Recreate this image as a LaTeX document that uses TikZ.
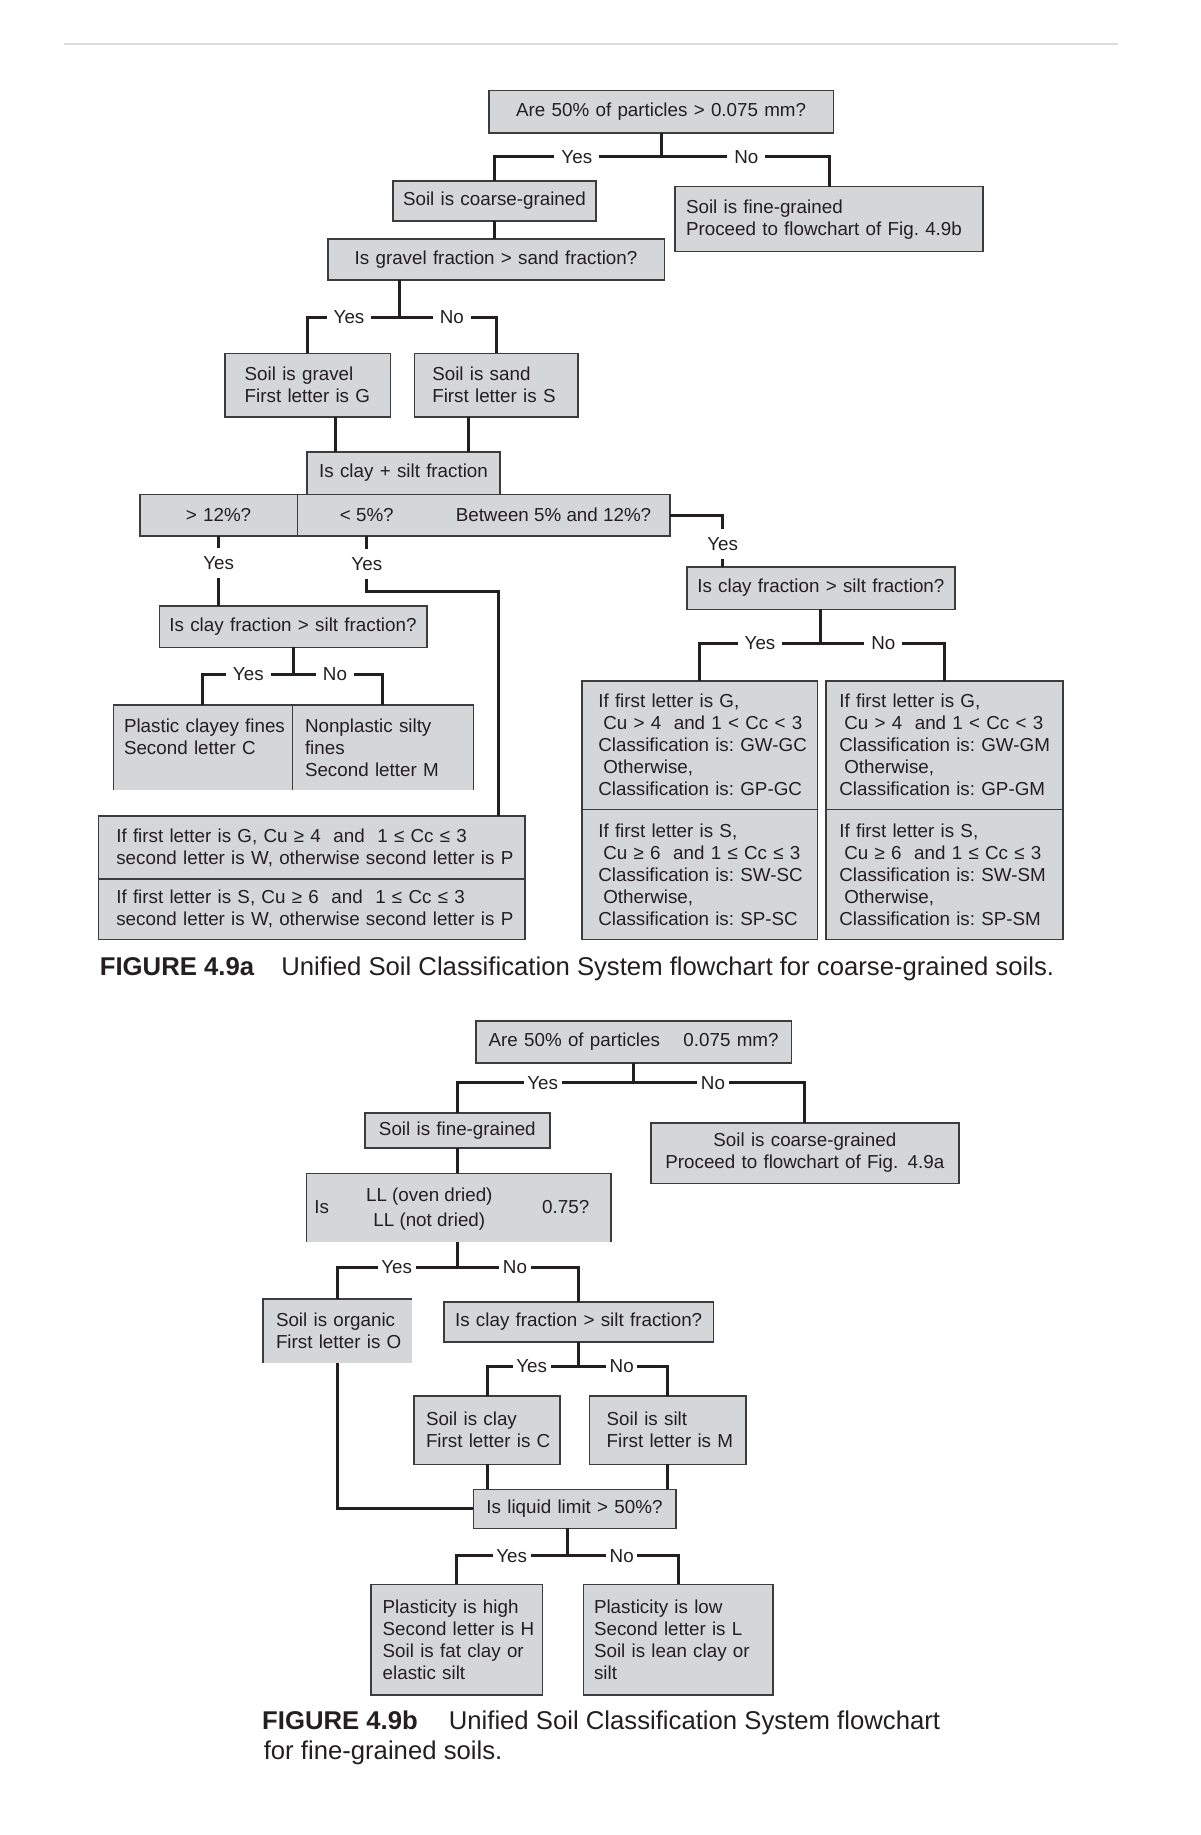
\documentclass[tikz,border=0pt]{standalone}
\usepackage{fontspec}
\setmainfont{Liberation Sans}
\usetikzlibrary{calc}
\definecolor{boxfill}{RGB}{213,214,216}
\definecolor{boxline}{RGB}{60,60,60}
\definecolor{inkc}{RGB}{35,31,32}
\definecolor{rulec}{RGB}{220,220,220}
\newcommand\boxfont{\fontsize{9.4pt}{11pt}\selectfont\hyphenpenalty=10000\exhyphenpenalty=10000\relax}
\newcommand\capfont{\fontsize{12.85pt}{15pt}\selectfont}
% #1 style, #2 name, #3 x1, #4 y1, #5 x2, #6 y2, #7 pad (px), #8 text
\newcommand\mkbox[8]{%
  \pgfmathsetlengthmacro\bxtw{(#5-#3-2*#7)*0.5pt}%
  \pgfmathsetlengthmacro\bxpad{#7*0.5pt}%
  \pgfmathsetlengthmacro\bxh{(#6-#4)*0.5pt}%
  \node[#1, anchor=north west, text width=\bxtw, inner xsep=\bxpad, minimum height=\bxh] (#2) at (#3,#4) {#8};}
\tikzset{
  box/.style={draw=boxline, line width=0.8pt, fill=boxfill, outer sep=0pt, inner ysep=1pt, text=inkc, font=\boxfont, align=left},
  cbox/.style={box, align=center},
  obox/.style={box, draw=none},
  bline/.style={draw=boxline, line width=0.8pt},
  conn/.style={draw=inkc, line width=1.5pt},
  lab/.style={fill=white, inner xsep=3.5pt, inner ysep=1pt, text=inkc, font=\boxfont},
  labb/.style={lab, inner xsep=1.8pt},
  vlab/.style={lab, inner ysep=4.4pt, inner xsep=1pt},
  txt/.style={text=inkc, font=\boxfont, inner sep=0pt},
  captxt/.style={text=inkc, font=\capfont, inner sep=0pt, anchor=base west},
  capbold/.style={captxt, font=\capfont\bfseries},
}
\begin{document}
\begin{tikzpicture}[x=0.5pt,y=-0.5pt]
\fill[white] (0,0) rectangle (1200,1835);
\useasboundingbox (0,0) rectangle (1200,1835);
\draw[rulec, line width=1pt] (64.4,44.5) -- (1118,44.5);

% ---------------- Figure 4.9a ----------------
\mkbox{cbox}{qa}{488.8}{90.7}{833.5}{133.3}{4}{Are 50\% of particles > 0.075 mm?}
\mkbox{cbox}{coarse}{392.9}{181}{596}{221}{4}{Soil is coarse-grained}
\mkbox{box}{fine}{675}{186.7}{983}{251.7}{11}{Soil~is~fine-grained\\Proceed~to~flowchart~of~Fig.~4.9b}
\mkbox{cbox}{gq}{327.7}{239.3}{664.3}{280}{4}{Is gravel fraction > sand fraction?}
\mkbox{box}{gravel}{224.7}{353.3}{390.3}{416.7}{20}{Soil~is~gravel\\First~letter~is~G}
\mkbox{box}{sand}{414.3}{353.3}{577.7}{416.7}{18}{Soil~is~sand\\First~letter~is~S}
\mkbox{cbox}{cs}{307.1}{451.7}{500}{494.3}{4}{Is clay + silt fraction}
\mkbox{cbox}{bar1}{139.8}{494.3}{297.3}{535.7}{4}{> 12\%?}
\mkbox{box}{bar2}{297.3}{494.3}{670.2}{535.7}{4}{}
\node[txt] (lt5) at (366.8,515) {< 5\%?};
\node[txt] (btw) at (553.5,515) {Between 5\% and 12\%?};
\mkbox{cbox}{q3}{686.7}{566.7}{955}{609.3}{4}{Is clay fraction > silt fraction?}
\mkbox{box}{gcL}{581.7}{680.7}{817.3}{809.3}{16.6}{If~first~letter~is~G,\\\hspace*{2.5pt}Cu~>~4~~and~1~<~Cc~<~3\\Classification~is:~GW-GC\\\hspace*{2.5pt}Otherwise,\\Classification~is:~GP-GC}
\mkbox{box}{scL}{581.7}{809.3}{817.3}{939.3}{16.6}{If~first~letter~is~S,\\\hspace*{2.5pt}Cu~≥~6~~and~1~≤~Cc~≤~3\\Classification~is:~SW-SC\\\hspace*{2.5pt}Otherwise,\\Classification~is:~SP-SC}
\mkbox{box}{gcR}{826}{680.7}{1063}{809.3}{13.3}{If~first~letter~is~G,\\\hspace*{2.5pt}Cu~>~4~~and~1~<~Cc~<~3\\Classification~is:~GW-GM\\\hspace*{2.5pt}Otherwise,\\Classification~is:~GP-GM}
\mkbox{box}{scR}{826}{809.3}{1063}{939.3}{13.3}{If~first~letter~is~S,\\\hspace*{2.5pt}Cu~≥~6~~and~1~≤~Cc~≤~3\\Classification~is:~SW-SM\\\hspace*{2.5pt}Otherwise,\\Classification~is:~SP-SM}
\mkbox{cbox}{q12}{159.3}{606}{426.7}{647.3}{4}{Is clay fraction > silt fraction?}
\mkbox{obox}{plas}{113.3}{705}{292.3}{790}{10.7}{Plastic~clayey~fines\\Second~letter~C\\\mbox{}}
\mkbox{obox}{nonp}{292.3}{705}{473.3}{790}{12.7}{Nonplastic~silty\\fines\\Second~letter~M}
\draw[bline] (plas.south west) -- (plas.north west) -- (plas.north east) -- (plas.south east);
\draw[bline] (nonp.south west) -- (nonp.north west) -- (nonp.north east) -- (nonp.south east);
\mkbox{box}{lowG}{98.3}{816}{525}{879}{18}{If~first~letter~is~G,~Cu~≥~4~~and~~1~≤~Cc~≤~3\\second~letter~is~W,~otherwise~second~letter~is~P}
\mkbox{box}{lowS}{98.3}{879}{525}{939.3}{18}{If~first~letter~is~S,~Cu~≥~6~~and~~1~≤~Cc~≤~3\\second~letter~is~W,~otherwise~second~letter~is~P}

% connectors a
\coordinate (ja1) at (qa.south |- 0,156.7);
\draw[conn] (qa.south) -- (ja1);
\draw[conn] (coarse.north) |- (ja1) -| (fine.north);
\draw[conn] (coarse.south) -- (coarse.south |- gq.north);
\coordinate (ja2) at (399.1,317.3);
\draw[conn] (ja2 |- gq.south) -- (ja2);
\draw[conn] (gravel.north) |- (ja2) -| (sand.north);
\draw[conn] (335.9,0 |- gravel.south) -- (335.9,0 |- cs.north);
\draw[conn] (468.5,0 |- sand.south) -- (468.5,0 |- cs.north);
\draw[conn] (bar1.south) -- (bar1.south |- q12.north);
\draw[conn] (lt5.center |- bar2.south) |- (498.3,591.7) -- (498.3,0 |- lowG.north);
\draw[conn] (bar2.east) -| (722.7,0 |- q3.north);
\coordinate (ja3) at (q3.south |- 0,643.3);
\draw[conn] (q3.south) -- (ja3);
\draw[conn] (gcL.north) |- (ja3) -| (gcR.north);
\coordinate (ja4) at (q12.south |- 0,674.3);
\draw[conn] (q12.south) -- (ja4);
\draw[conn] (plas.north) |- (ja4) -| (nonp.north);

\node[lab] (ya1) at (576.8,156.7) {Yes};
\node[lab] (na1) at (746.4,156.7) {No};
\node[lab] (ya2) at (349,317.3) {Yes};
\node[lab] (na2) at (451.8,317.3) {No};
\node[vlab] (ya3) at (218.6,563) {Yes};
\node[vlab] (ya4) at (366.8,564) {Yes};
\node[vlab] (ya5) at (722.7,544) {Yes};
\node[lab] (ya6) at (760,643.3) {Yes};
\node[lab] (na6) at (883.3,643.3) {No};
\node[lab] (ya7) at (248.3,674.3) {Yes};
\node[lab] (na7) at (335,674.3) {No};

\node[capbold] (figa) at (99.5,975) {FIGURE 4.9a};
\node[captxt] (capa) at (281,975) {Unified Soil Classification System flowchart for coarse-grained soils.};

% ---------------- Figure 4.9b ----------------
\mkbox{cbox}{qb}{475.8}{1020.7}{791.4}{1062.7}{4}{Are 50\% of particles~\phantom{>}~0.075 mm?}
\mkbox{cbox}{fg}{364.8}{1112.7}{549.9}{1148}{4}{Soil is fine-grained}
\mkbox{cbox}{cg}{650.8}{1122.7}{958.9}{1183.3}{4}{Soil is coarse-grained\\Proceed to flowchart of Fig. 4.9a}
\mkbox{obox}{ll}{306.4}{1173.3}{611.1}{1241.7}{4}{}
\draw[bline] (ll.south west) -- (ll.north west) -- (ll.north east) -- (ll.south east);
\node[txt] (llis) at (321.7,1206.7) {Is};
\node[txt, align=center] (llfr) at (429.3,1209.2) {LL (oven dried)\\[1.5pt]LL (not dried)};
\node[txt] (llv) at (565.7,1206.7) {0.75?};
\mkbox{obox}{org}{262.7}{1299}{412.3}{1363.3}{13.3}{Soil~is~organic\\First~letter~is~O}
\draw[bline] (org.south west) -- (org.north west) -- (org.north east);
\mkbox{cbox}{cs2}{444}{1301.7}{713.3}{1341.7}{4}{Is clay fraction > silt fraction?}
\mkbox{box}{clay}{414}{1396}{560}{1464.3}{12}{Soil~is~clay\\First~letter~is~C}
\mkbox{box}{silt}{589.3}{1396}{746}{1464.3}{17.4}{Soil~is~silt\\First~letter~is~M}
\mkbox{cbox}{llq}{473.3}{1489.3}{675.7}{1528.3}{4}{Is liquid limit > 50\%?}
\mkbox{box}{high}{370.7}{1584.3}{542.3}{1695}{12}{Plasticity~is~high\\Second~letter~is~H\\Soil~is~fat~clay~or\\elastic~silt}
\mkbox{box}{low}{583.3}{1584.3}{772.7}{1695}{10.7}{Plasticity~is~low\\Second~letter~is~L\\Soil~is~lean~clay~or\\silt}

% connectors b
\coordinate (jb1) at (qb.south |- 0,1082.7);
\draw[conn] (qb.south) -- (jb1);
\draw[conn] (fg.north) |- (jb1) -| (cg.north);
\draw[conn] (fg.south) -- (fg.south |- ll.north);
\coordinate (jb2) at (fg.south |- 0,1267.3);
\draw[conn] (jb2 |- ll.south) -- (jb2);
\draw[conn] (org.north) |- (jb2) -| (cs2.north);
\coordinate (jb3) at (cs2.south |- 0,1366);
\draw[conn] (cs2.south) -- (jb3);
\draw[conn] (clay.north) |- (jb3) -| (silt.north);
\draw[conn] (clay.south) -- (clay.south |- llq.north);
\draw[conn] (silt.south) -- (silt.south |- llq.north);
\draw[conn] (org.south) |- (llq.west);
\coordinate (jb4) at (567.7,1555.7);
\draw[conn] (jb4 |- llq.south) -- (jb4);
\draw[conn] (high.north) |- (jb4) -| (low.north);

\node[labb] (yb1) at (542.7,1082.7) {Yes};
\node[labb] (nb1) at (713,1082.7) {No};
\node[labb] (yb2) at (396.7,1267.3) {Yes};
\node[labb] (nb2) at (515,1267.3) {No};
\node[labb] (yb3) at (531.7,1366) {Yes};
\node[labb] (nb3) at (621.7,1366) {No};
\node[labb] (yb4) at (511.7,1555.7) {Yes};
\node[labb] (nb4) at (621.7,1555.7) {No};

\node[capbold] (figb) at (261.8,1729.7) {FIGURE 4.9b};
\node[captxt] (capb1) at (448.4,1729.7) {Unified Soil Classification System flowchart};
\node[captxt] (capb2) at (263.4,1759.7) {for fine-grained soils.};
\end{tikzpicture}
\end{document}
